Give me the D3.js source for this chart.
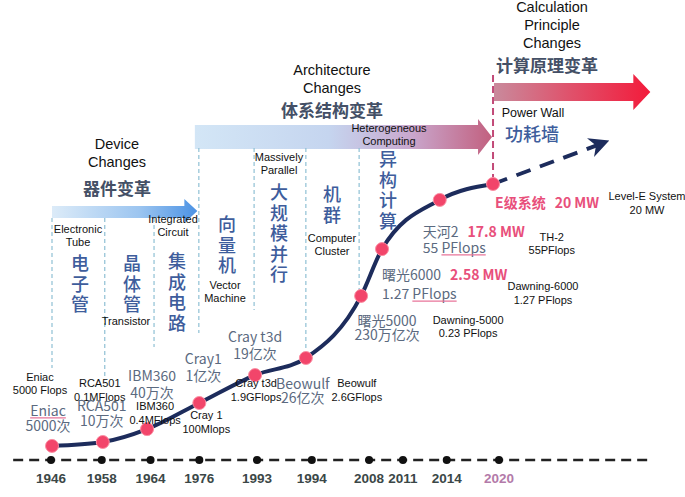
<!DOCTYPE html>
<html lang="en">
<head>
<meta charset="UTF-8">
<title>Computing evolution</title>
<style>
  body { margin: 0; background: #fff; }
  svg text { font-family: "Liberation Sans", Arial, sans-serif; }
  svg .zh { font-family: "Noto Sans CJK SC", sans-serif; }
</style>
</head>
<body>
<svg id="chart" width="685" height="497"></svg>
<script src="https://d3js.org/d3.v7.min.js"></script>
<script>
// ---- data ----
// timeline ticks (slot = position along the time axis)
const years = [1946, 1958, 1964, 1976, 1993, 1994, 2008, 2011, 2014, 2020];
const yearSlot = [0, 1.02, 2, 2.98, 4.14, 5.24, 6.39, 7.07, 7.95, 9];

// machines on the performance curve
const machines = ["Eniac", "RCA501", "IBM360", "Cray 1", "Cray t3d", "Beowulf", "Dawning-5000", "Dawning-6000", "TH-2", "Level-E System"];
const perf = ["5000 Flops", "0.1MFlops", "0.4MFlops", "100Mlops", "1.9GFlops", "2.6GFlops", "0.23 PFlops", "1.27 PFlops", "55PFlops", "20 MW"];
const machinesZh = ["Eniac", "RCA501", "IBM360", "Cray1", "Cray t3d", "Beowulf", "曙光5000", "曙光6000", "天河2", "E级系统"];
const perfZh = ["5000次", "10万次", "40万次", "1亿次", "19亿次", "26亿次", "230万亿次", "1.27 PFlops", "55 PFlops", ""];
const powerMW = ["", "", "", "", "", "", "", "2.58 MW", "17.8 MW", "20 MW"];
const machineSlot = [0.02, 1.04, 1.93, 2.98, 4.1, 5.12, 6.23, 6.65, 7.81, 8.88];
const machineLevel = [4.7, 6, 10.3, 19, 28.3, 34, 54.7, 70.3, 86.7, 92];
const trendEnd = [11.09, 105.7];   // slot, level of the dashed projection

// technology eras
const eras = [["Device", "Changes"], ["Architecture", "Changes"], ["Calculation", "Principle", "Changes"]];
const erasZh = ["器件变革", "体系结构变革", "计算原理变革"];
const eraStart = [0.02, 2.89, 8.9];
const eraEnd = [2.94, 8.86, 12.04];

const techEn = [["Electronic", "Tube"], ["Transistor"], ["Integrated", "Circuit"], ["Vector", "Machine"],
                ["Massively", "Parallel"], ["Computer", "Cluster"], ["Heterogeneous", "Computing"], ["Power Wall"]];
const techZh = ["电子管", "晶体管", "集成电路", "向量机", "大规模并行", "机群", "异构计算", "功耗墙"];

// ---- layout ----
const svg = d3.select("#chart");
const x = d3.scaleLinear().domain([0, 9]).range([51, 499]);
const y = d3.scaleLinear().domain([0, 100]).range([460, 160]);

const pts = machines.map((m, i) => ({ name: m, px: x(machineSlot[i]), py: y(machineLevel[i]), i }));

// label placement (offsets from each point)
const enOff = [[-12, -69], [-3, -59], [8, -23], [7, 12], [1, 8], [51, 25], [107, 24], [161, 37], [112, 37], [154, 12]];
const zhOff = [[-4, -36], [-1, -37], [5, -54], [4, -45], [0, -39], [-3, 25], [26, 24], [0, 25], [-17, 31], [2, 18]];
const zhGap = [15, 15, 17, 17, 17, 14, 14, 19, 16, 0];

// tech column placement: [x, first y] for zh, [x, first y] for en
const techZhPos = [[80, 262], [132, 262], [177, 260], [227, 223], [279, 191], [332, 193], [388, 158], [532, 133]];
const techEnPos = [[78, 229], [126, 321], [173, 219], [225, 285], [279, 157], [332, 238], [389, 128], [533, 113]];

// dashed separators between columns: slot, top level, bottom level
const seps = [[0.02, 80.7, 30.7], [1.08, 80.7, 27.7], [2.07, 80.7, 37.7], [2.97, 104, 42.3],
              [4.08, 104, 50], [5.12, 104, 36.7], [6.19, 104, 56.7]];

const defs = svg.append("defs");
const grads = [
  [["0", "#dcebf8"], ["0.6", "#9cc5f0"], ["1", "#4b92e4"]],
  [["0", "#d3e6f6"], ["0.45", "#c5d5ef"], ["0.72", "#c9a9cf"], ["1", "#c2607f"]],
  [["0", "#c98a9c"], ["0.5", "#e0506a"], ["1", "#f31b3b"]]
];
grads.forEach((g, i) => {
  const lg = defs.append("linearGradient").attr("id", "g" + i).attr("x1", 0).attr("x2", 1).attr("y1", 0).attr("y2", 0);
  g.forEach(s => lg.append("stop").attr("offset", s[0]).attr("stop-color", s[1]));
});
defs.append("marker").attr("id", "head").attr("viewBox", "0 0 12 12").attr("refX", 8).attr("refY", 6)
  .attr("markerWidth", 20).attr("markerHeight", 20).attr("markerUnits", "userSpaceOnUse").attr("orient", "auto")
  .append("path").attr("d", "M0,0 L12,6 L0,12 L3.5,6 Z").attr("fill", "#1d2c5c");

// ---- era banners ----
const bandY = [[206, 218, 199, 223], [125, 149, 119, 155], [83, 101, 74, 110]];
const headLen = [13, 14, 17];
eras.forEach((e, i) => {
  const x0 = x(eraStart[i]), tip = x(eraEnd[i]), xh = tip - headLen[i];
  const [t, b, ht, hb] = bandY[i], cy = (ht + hb) / 2;
  svg.append("path")
    .attr("d", `M${x0},${t} L${xh},${t} L${xh},${ht} L${tip},${cy} L${xh},${hb} L${xh},${b} L${x0},${b} Z`)
    .attr("fill", `url(#g${i})`);
});

// era headings
const headPos = [[117, 144, 187], [332, 70, 109], [552, 7, 64]];
eras.forEach((e, i) => {
  const [hx, hy, zy] = headPos[i];
  e.forEach((line, k) => {
    svg.append("text").attr("x", hx).attr("y", hy + k * 18).attr("text-anchor", "middle")
      .attr("dominant-baseline", "central").attr("font-size", 14.5).attr("fill", "#111").text(line);
  });
  svg.append("text").attr("class", "zh").attr("x", i === 2 ? hx - 5 : hx).attr("y", zy)
    .attr("text-anchor", "middle").attr("dominant-baseline", "central")
    .attr("font-size", 17).attr("font-weight", 700).attr("fill", "#445066").text(erasZh[i]);
});

// separators
svg.selectAll(".sep").data(seps).join("line")
  .attr("x1", d => x(d[0])).attr("x2", d => x(d[0]))
  .attr("y1", d => y(d[1])).attr("y2", d => y(d[2]))
  .attr("stroke", "#8fc0d4").attr("stroke-width", 1.2).attr("stroke-dasharray", "4,3");

// pink boundary for calculation principle era
svg.append("line").attr("x1", x(machineSlot[9])).attr("x2", x(machineSlot[9]))
  .attr("y1", 75).attr("y2", y(machineLevel[9]))
  .attr("stroke", "#c24a78").attr("stroke-width", 2).attr("stroke-dasharray", "7,4");

// technology columns
techZh.forEach((t, i) => {
  const [tx, ty] = techZhPos[i];
  const chars = i === 7 ? [t] : Array.from(t);
  chars.forEach((c, k) => {
    svg.append("text").attr("class", "zh").attr("x", tx).attr("y", ty + k * 20.6)
      .attr("text-anchor", "middle").attr("dominant-baseline", "central")
      .attr("font-size", 18).attr("font-weight", 500).attr("fill", "#3e5d9c").text(c);
  });
  const [ex, ey] = techEnPos[i];
  techEn[i].forEach((line, k) => {
    svg.append("text").attr("x", ex).attr("y", ey + k * 12.5).attr("text-anchor", "middle")
      .attr("dominant-baseline", "central").attr("font-size", i === 7 ? 12.5 : 11).attr("fill", "#111").text(line);
  });
});

// ---- time axis ----
svg.append("line").attr("x1", x(-0.76)).attr("x2", x(12)).attr("y1", y(0)).attr("y2", y(0))
  .attr("stroke", "#222").attr("stroke-width", 2.6).attr("stroke-dasharray", "10,6");
svg.selectAll(".tick").data(years).join("circle")
  .attr("cx", (d, i) => x(yearSlot[i])).attr("cy", y(0)).attr("r", 4).attr("fill", "#111");
svg.selectAll(".year").data(years).join("text")
  .attr("x", (d, i) => x(yearSlot[i])).attr("y", y(0) + 18).attr("text-anchor", "middle")
  .attr("dominant-baseline", "central").attr("font-size", 13.5).attr("font-weight", 700)
  .attr("fill", d => d === 2020 ? "#b37aa9" : "#3b4747").text(d => d);

// ---- performance curve ----
const line = d3.line().x(d => d.px).y(d => d.py).curve(d3.curveMonotoneX);
const last = pts[pts.length - 1];
svg.append("path").attr("d", d3.line()([[last.px, last.py], [x(trendEnd[0]), y(trendEnd[1])]]))
  .attr("stroke", "#1d2c5c").attr("stroke-width", 4).attr("stroke-dasharray", "15,10")
  .attr("fill", "none").attr("marker-end", "url(#head)");
svg.append("path").attr("d", line(pts)).attr("fill", "none")
  .attr("stroke", "#1d2c5c").attr("stroke-width", 4);
svg.selectAll(".pt").data(pts).join("circle")
  .attr("cx", d => d.px).attr("cy", d => d.py).attr("r", 6.5)
  .attr("fill", "#f2456a").attr("stroke", "#fb8fa3").attr("stroke-width", 1);

// English labels
pts.forEach((p, i) => {
  const [dx, dy] = enOff[i];
  [machines[i], perf[i]].forEach((t, k) => {
    svg.append("text").attr("x", p.px + dx).attr("y", p.py + dy + k * 13.5).attr("text-anchor", "middle")
      .attr("dominant-baseline", "central").attr("font-size", 11).attr("fill", "#111").text(t);
  });
});

// Chinese labels
const gray = "#5b6a80", pink = "#e84f7b";
pts.forEach((p, i) => {
  const [dx, dy] = zhOff[i];
  const left = i >= 7;
  const t1 = svg.append("text").attr("class", "zh").attr("x", p.px + dx).attr("y", p.py + dy)
    .attr("text-anchor", left ? "start" : "middle").attr("dominant-baseline", "central")
    .attr("font-size", 14).attr("fill", i === 9 ? pink : gray).attr("font-weight", i === 9 ? 700 : 400);
  t1.append("tspan").text(machinesZh[i]);
  if (powerMW[i]) {
    t1.append("tspan").attr("dx", 9).attr("fill", pink).attr("font-weight", 700).text(powerMW[i]);
  }
  if (perfZh[i]) {
    const t2 = svg.append("text").attr("class", "zh").attr("x", p.px + dx).attr("y", p.py + dy + zhGap[i])
      .attr("text-anchor", left ? "start" : "middle").attr("dominant-baseline", "central")
      .attr("font-size", 14).attr("fill", gray).text(perfZh[i]);
    // pink underline below "PFlops"
    const s = perfZh[i].indexOf("PFlops");
    if (s >= 0) underline(t2, s, perfZh[i].length);
  }
  if (i === 0) underline(t1, 0, machinesZh[0].length);
});

function underline(sel, a, b) {
  const n = sel.node();
  const x0 = n.getStartPositionOfChar(a).x, x1 = n.getEndPositionOfChar(b - 1).x;
  const yy = +sel.attr("y") + 8;
  svg.append("line").attr("x1", x0).attr("x2", x1).attr("y1", yy).attr("y2", yy)
    .attr("stroke", "#e8749a").attr("stroke-width", 1.2);
}
</script>
</body>
</html>
